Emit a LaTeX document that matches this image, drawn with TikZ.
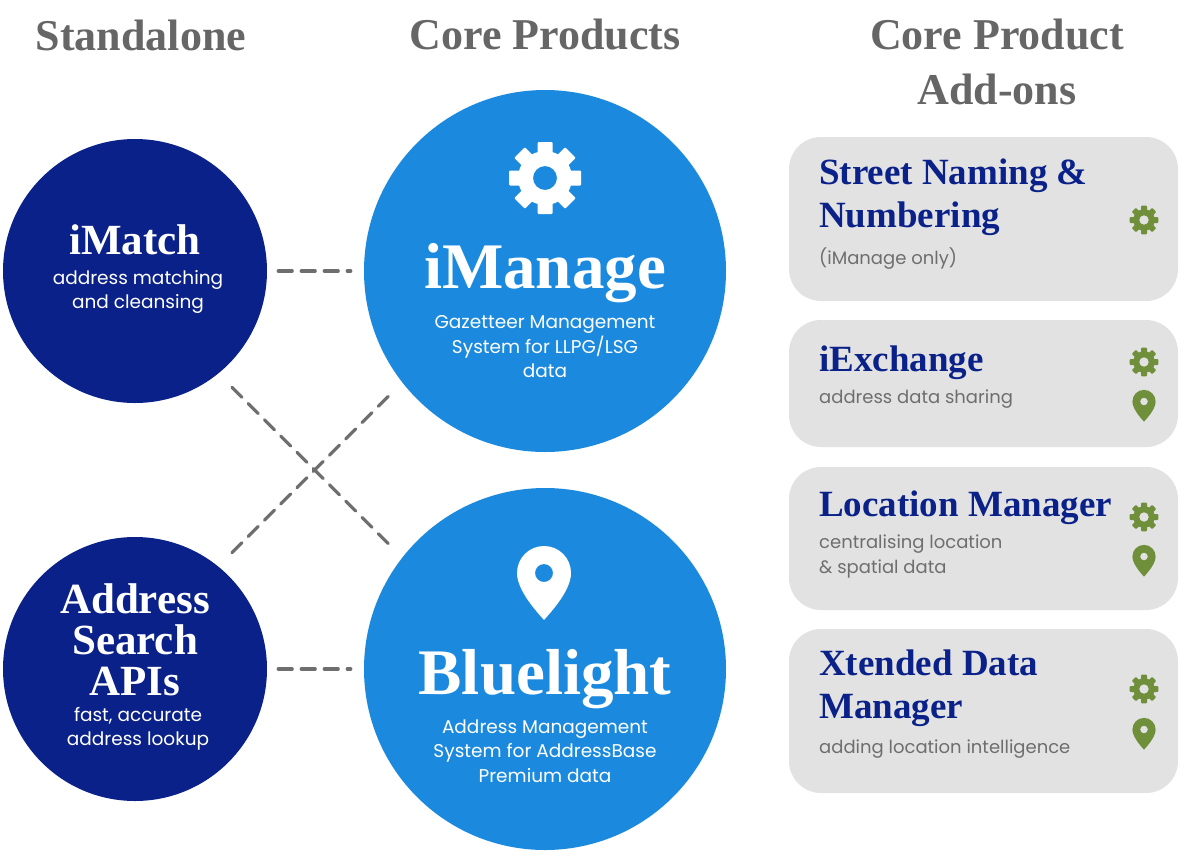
\documentclass[tikz,border=0pt]{standalone}
\usepackage{fontspec}
\setmainfont{Poppins}
\newfontfamily\headfont{Liberation Serif}[BoldFont={Liberation Serif Bold}]
\definecolor{navy}{HTML}{0A2189}
\definecolor{skyblue}{HTML}{1B8ADE}
\definecolor{headgray}{HTML}{666666}
\definecolor{bodygray}{HTML}{6E6E6E}
\definecolor{pillgray}{HTML}{E2E2E2}
\definecolor{leaf}{HTML}{6F8F3A}
\tikzset{
  x=1pt,y=-1pt,
  heading/.style={text=headgray,font=\headfont\bfseries\fontsize{44}{55}\selectfont,align=center,inner sep=0pt},
  bigdisc/.style={circle,fill=skyblue,minimum size=362pt,inner sep=0pt},
  smalldisc/.style={circle,fill=navy,minimum size=264pt,inner sep=0pt},
  bigname/.style={text=white,font=\headfont\bfseries\fontsize{65}{65}\selectfont,align=center,inner sep=0pt},
  smallname/.style={text=white,font=\headfont\bfseries\fontsize{43}{41}\selectfont,align=center,inner sep=0pt},
  disctext/.style={text=white,font=\fontsize{18.5}{24.5}\selectfont,align=center,inner sep=0pt},
  pill/.style={fill=pillgray,rounded corners=32pt,draw=none},
  pilltitle/.style={text=navy,font=\headfont\bfseries\fontsize{37}{42.5}\selectfont,align=left,anchor=north west,inner sep=0pt},
  pilltext/.style={text=bodygray,font=\fontsize{18}{25}\selectfont,align=left,anchor=north west,inner sep=0pt},
  conn/.style={draw=bodygray,line width=3.2pt,dash pattern=on 14pt off 9pt,line cap=round},
  pics/gearicon/.style={code={
    \fill[#1,even odd rule] (0,0) circle[radius=27] (0,0) circle[radius=12];
    \foreach \a in {0,45,...,315}
      \fill[#1,rotate=\a,rounded corners=1pt] (-7.5,-20) rectangle (7.5,-36);
  }},
  pics/pinicon/.style={code={
    \fill[#1,even odd rule] (0,47) .. controls (-6,40) and (-27,18) .. (-27,0)
      .. controls (-27,-15) and (-15,-27) .. (0,-27)
      .. controls (15,-27) and (27,-15) .. (27,0)
      .. controls (27,18) and (6,40) .. (0,47) -- cycle
      (0,0) circle[radius=9];
  }}
}
\begin{document}
\begin{tikzpicture}
\useasboundingbox (0,0) rectangle (1200,860);
% headings
\node[heading] (hstand) at (141,35) {Standalone};
\node[heading] (hcore) at (545,35) {Core Products};
\node[heading] (haddon) at (997,62) {Core Product\\Add-ons};
% discs
\node[smalldisc] (imatch) at (135,271) {};
\node[smalldisc] (apis) at (135,669) {};
\node[bigdisc] (imanage) at (545,271) {};
\node[bigdisc] (bluelight) at (545,669) {};
% connectors
\draw[conn] ([xshift=11pt]imatch.east) -- ([xshift=-13pt]imanage.west);
\draw[conn] ([xshift=11pt]apis.east) -- ([xshift=-13pt]bluelight.west);
\draw[conn] ([shift={(12,15)}]imatch.-50) -- ([shift={(-16,-7)}]bluelight.140);
\draw[conn] ([shift={(12,-15)}]apis.50) -- ([shift={(-16,7)}]imanage.-140);
% disc contents
\node[smallname] (imatchname) at (135,240) {iMatch};
\node[disctext] (imatchtext) at (138,292) {address matching\\and cleansing};
\node[smallname] (apisname) at (135,640) {Address\\Search\\APIs};
\node[disctext] (apistext) at (138,729) {fast, accurate\\address lookup};
\pic at (545,178) {gearicon=white};
\node[bigname] (imanagename) at (545,273) {iManage};
\node[disctext] (imanagetext) at (545,347) {Gazetteer Management\\System for LLPG/LSG\\data};
\pic at (544,573) {pinicon=white};
\node[bigname] (bluelightname) at (545,679) {Bluelight};
\node[disctext] (bluelighttext) at (545,751) {Address Management\\System for AddressBase\\Premium data};
% add-on cards
\fill[pill] (789,137) rectangle (1178,301);
\fill[pill] (789,320) rectangle (1178,447);
\fill[pill] (789,467) rectangle (1178,610);
\fill[pill] (789,629) rectangle (1178,793);
\node[pilltitle] (t1) at (819,159) {Street Naming \&\\Numbering};
\node[pilltext] (s1) at (819,247) {(iManage only)};
\node[pilltitle] (t2) at (819,346) {iExchange};
\node[pilltext] (s2) at (819,390) {address data sharing};
\node[pilltitle] (t3) at (819,491) {Location Manager};
\node[pilltext] (s3) at (819,535) {centralising location\\\& spatial data};
\node[pilltitle] (t4) at (819,650) {Xtended Data\\Manager};
\node[pilltext] (s4) at (819,740) {adding location intelligence};
% icons
\pic[scale=0.4] at (1144,220) {gearicon=leaf};
\pic[scale=0.4] at (1144,362) {gearicon=leaf};
\pic[scale=0.43] at (1144,401.5) {pinicon=leaf};
\pic[scale=0.4] at (1144,517) {gearicon=leaf};
\pic[scale=0.43] at (1144,556.5) {pinicon=leaf};
\pic[scale=0.4] at (1144,689) {gearicon=leaf};
\pic[scale=0.43] at (1144,729.5) {pinicon=leaf};
\end{tikzpicture}
\end{document}
